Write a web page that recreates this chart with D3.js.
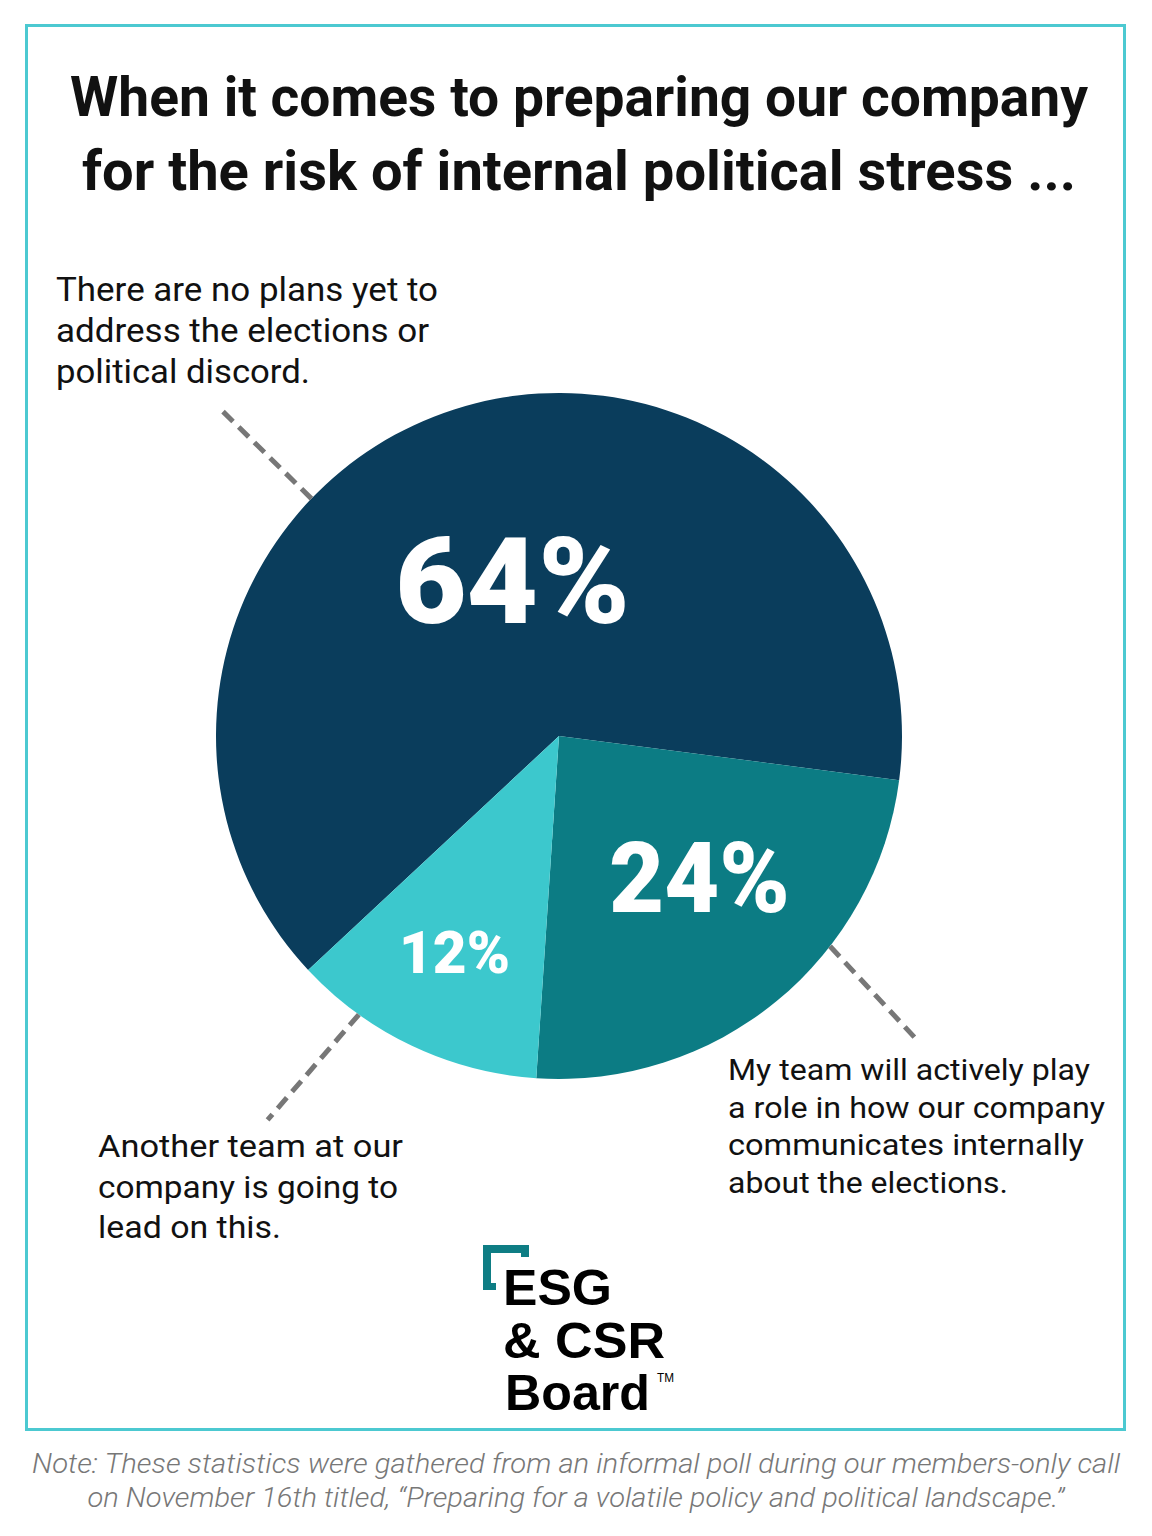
<!DOCTYPE html>
<html>
<head>
<meta charset="utf-8">
<script src="https://cdn.jsdelivr.net/npm/d3@7"></script>
<style>
  html, body { margin: 0; padding: 0; background: #fff; }
  svg { display: block; }
</style>
</head>
<body>
<svg id="chart" width="1152" height="1536"></svg>
<script>
// ---------------- data ----------------
const titleLines = [
  "When it comes to preparing our company",
  "for the risk of internal political stress ..."
];
const categories = [
  "There are no plans yet to address the elections or political discord.",
  "My team will actively play a role in how our company communicates internally about the elections.",
  "Another team at our company is going to lead on this."
];
const categoryLines = [
  ["There are no plans yet to", "address the elections or", "political discord."],
  ["My team will actively play", "a role in how our company", "communicates internally", "about the elections."],
  ["Another team at our", "company is going to", "lead on this."]
];
const values = [64, 24, 12];
const valueLabels = ["64%", "24%", "12%"];
const sliceColors = ["#0a3d5c", "#0c7c84", "#3cc8cd"];
// dashed leader lines: angle (deg, clockwise from 12 o'clock) at the pie edge and at the outer end
const leaderStartAngles = [-46.2, 127.8, 215.7];
const leaderEndAngles = [-46.0, 130.3, 217.2];
const noteLines = [
  "Note: These statistics were gathered from an informal poll during our members-only call",
  "on November 16th titled, \u201cPreparing for a volatile policy and political landscape.\u201d"
];
const logoLines = ["ESG", "& CSR", "Board"];

// ---------------- layout ----------------
const svg = d3.select("#chart");
const cx = 559, cy = 736, R = 343;
const deg = Math.PI / 180;

// frame
svg.append("rect")
  .attr("x", 26.5).attr("y", 25.5).attr("width", 1098).attr("height", 1404)
  .attr("fill", "#fff").attr("stroke", "#4cc9d1").attr("stroke-width", 3);

// title
const titleLayout = [{y: 116, w: 1018}, {y: 190, w: 994}];
svg.append("g").selectAll("text").data(titleLines).join("text")
  .attr("x", 579).attr("y", (d, i) => titleLayout[i].y)
  .attr("text-anchor", "middle")
  .attr("font-family", "Roboto, 'DejaVu Sans', sans-serif")
  .attr("font-weight", 700).attr("font-size", 55).attr("fill", "#111")
  .attr("textLength", (d, i) => titleLayout[i].w)
  .attr("lengthAdjust", "spacingAndGlyphs")
  .text(d => d);

// pie
const pie = d3.pie().sort(null).value(d => d)
  .startAngle(-133 * deg).endAngle(227 * deg);
const arcs = pie(values);
const arc = d3.arc().innerRadius(0).outerRadius(R);
const pieG = svg.append("g").attr("transform", `translate(${cx},${cy})`);
pieG.selectAll("path").data(arcs).join("path")
  .attr("d", arc)
  .attr("fill", (d, i) => sliceColors[i]);

// leader lines (dashed)
const leaderOuterR = [R + 131, R + 124, R + 139];
pieG.selectAll("line.leader").data(leaderStartAngles).join("line")
  .attr("class", "leader")
  .attr("x1", (a) => d3.pointRadial(a * deg, R)[0])
  .attr("y1", (a) => d3.pointRadial(a * deg, R)[1])
  .attr("x2", (a, i) => d3.pointRadial(leaderEndAngles[i] * deg, leaderOuterR[i])[0])
  .attr("y2", (a, i) => d3.pointRadial(leaderEndAngles[i] * deg, leaderOuterR[i])[1])
  .attr("stroke", "#777").attr("stroke-width", 5)
  .attr("stroke-dasharray", "14,8");

// value labels
const valueLayout = [
  {x: 512.5, y: 623, size: 120, w: 235},
  {x: 699.5, y: 912, size: 98, w: 181},
  {x: 454.5, y: 973, size: 60, w: 111}
];
svg.append("g").selectAll("text").data(valueLabels).join("text")
  .attr("x", (d, i) => valueLayout[i].x)
  .attr("y", (d, i) => valueLayout[i].y)
  .attr("text-anchor", "middle")
  .attr("font-family", "Roboto, 'DejaVu Sans', sans-serif")
  .attr("font-weight", 900)
  .attr("font-size", (d, i) => valueLayout[i].size)
  .attr("fill", "#fff")
  .attr("textLength", (d, i) => valueLayout[i].w)
  .attr("lengthAdjust", "spacingAndGlyphs")
  .text(d => d);

// category labels
const catLayout = [
  {x: 56, y0: 301, dy: 41, size: 33, widths: [382, 373, 254]},
  {x: 728, y0: 1080, dy: 37.5, size: 29, widths: [362, 377, 356, 280]},
  {x: 98, y0: 1157, dy: 40.5, size: 31, widths: [305, 300, 183]}
];
categoryLines.forEach((lines, ci) => {
  const L = catLayout[ci];
  svg.append("g").selectAll("text").data(lines).join("text")
    .attr("x", L.x).attr("y", (d, i) => L.y0 + i * L.dy)
    .attr("font-family", "Roboto, 'DejaVu Sans', sans-serif")
    .attr("font-weight", 400).attr("font-size", L.size).attr("fill", "#111")
    .attr("textLength", (d, i) => L.widths[i])
    .attr("lengthAdjust", "spacingAndGlyphs")
    .text(d => d);
});

// logo
const logo = svg.append("g");
logo.append("path")
  .attr("d", "M483,1245 L529,1245 L529,1257 L521,1257 L521,1253 L491,1253 L491,1283 L496,1283 L496,1290 L483,1290 Z")
  .attr("fill", "#0e7d84");
const logoLayout = [{x: 503, y: 1305, w: 109}, {x: 503, y: 1358, w: 162}, {x: 505, y: 1410, w: 145}];
logo.selectAll("text.logo").data(logoLines).join("text")
  .attr("class", "logo")
  .attr("x", (d, i) => logoLayout[i].x).attr("y", (d, i) => logoLayout[i].y)
  .attr("font-family", "'Liberation Sans', Arial, sans-serif")
  .attr("font-weight", 700).attr("font-size", 50).attr("fill", "#000")
  .attr("textLength", (d, i) => logoLayout[i].w)
  .attr("lengthAdjust", "spacingAndGlyphs")
  .text(d => d);
logo.append("text")
  .attr("x", 657).attr("y", 1382)
  .attr("font-family", "'Liberation Sans', Arial, sans-serif")
  .attr("font-size", 13).attr("fill", "#000")
  .attr("textLength", 17).attr("lengthAdjust", "spacingAndGlyphs")
  .text("TM");

// note
const noteLayout = [{y: 1473, w: 1088}, {y: 1507, w: 977}];
svg.append("g").selectAll("text").data(noteLines).join("text")
  .attr("x", 576).attr("y", (d, i) => noteLayout[i].y)
  .attr("text-anchor", "middle")
  .attr("font-family", "Roboto, 'DejaVu Sans', sans-serif")
  .attr("font-style", "italic").attr("font-weight", 300)
  .attr("font-size", 27).attr("fill", "#777")
  .attr("textLength", (d, i) => noteLayout[i].w)
  .attr("lengthAdjust", "spacingAndGlyphs")
  .text(d => d);
</script>
</body>
</html>
